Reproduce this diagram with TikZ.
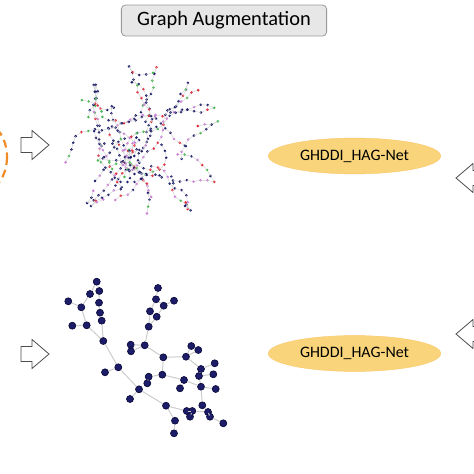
\documentclass[tikz,border=0pt]{standalone}
\usepackage{fontspec}
\setmainfont{Carlito}
\usetikzlibrary{shapes.geometric}

\definecolor{gnavy}{RGB}{28,28,105}
\definecolor{gnavyd}{RGB}{12,12,60}
\definecolor{gred}{RGB}{225,40,55}
\definecolor{ggreen}{RGB}{70,185,80}
\definecolor{gpink}{RGB}{205,125,215}
\definecolor{netfill}{RGB}{250,212,122}
\definecolor{dashorange}{RGB}{238,140,40}
\definecolor{boxgray}{RGB}{231,231,231}

\tikzset{
  titlebox/.style={draw=gray!80, fill=boxgray, rounded corners=4, line width=0.8,
    minimum width=206, minimum height=31, inner sep=0,
    font=\fontsize{20.5}{24}\selectfont},
  netbox/.style={ellipse, fill=netfill, draw=netfill!85!orange, line width=0.4,
    minimum width=173, minimum height=36, inner sep=0,
    font=\fontsize{16}{19}\selectfont},
  blockarrow/.style={draw=black!70, fill=white, line width=0.8, line join=miter},
  atom/.style={circle, fill=gnavy, draw=gnavyd, line width=0.7, inner sep=0, minimum size=7},
  bond/.style={draw=gray!40, line width=1},
  link/.style={draw=gray!40, line width=0.4},
}

\begin{document}
\begin{tikzpicture}[x=1bp,y=-1bp]
  \useasboundingbox (0,0) rectangle (474,474);

  \node[titlebox] (title) at (224,20.5) {Graph Augmentation};

  % orange dashed group at the left edge
  \draw[dashorange, dashed, dash pattern=on 8 off 5, line width=2.2] (-20,157) ellipse (27 and 36);

  % block arrows
  \draw[blockarrow, shift={(21,145)}] (0,-7.5) -- (11,-7.5) -- (11,-14.5) -- (28,0) -- (11,14.5) -- (11,7.5) -- (0,7.5) -- cycle;
  \draw[blockarrow, shift={(21,354)}] (0,-7.5) -- (11,-7.5) -- (11,-14.5) -- (28,0) -- (11,14.5) -- (11,7.5) -- (0,7.5) -- cycle;
  \draw[blockarrow, shift={(456,178)}] (0,0) -- (17,-14.5) -- (17,-7.5) -- (40,-7.5) -- (40,7.5) -- (17,7.5) -- (17,14.5) -- cycle;
  \draw[blockarrow, shift={(456,334)}] (0,0) -- (17,-14.5) -- (17,-7.5) -- (40,-7.5) -- (40,7.5) -- (17,7.5) -- (17,14.5) -- cycle;

  \node[netbox] (net1) at (354.5,156) {GHDDI\_HAG-Net};
  \node[netbox] (net2) at (354.5,353.5) {GHDDI\_HAG-Net};

  % augmented graph (dense, random chains)
  \pgfmathsetseed{1207}
  \foreach \c in {1,...,34}{
    \pgfmathsetmacro\sx{143+rand*45}
    \pgfmathsetmacro\sy{145+rand*45}
    \pgfmathsetmacro\sa{rnd*360}
    \pgfmathtruncatemacro\len{5+rnd*9}
    \xdef\px{\sx}\xdef\py{\sy}\xdef\pa{\sa}
    \fill[gnavy] (\sx,\sy) circle (1.4);
    \foreach \k in {1,...,\len}{
      \pgfmathsetmacro\dd{veclen(\px-143,\py-145)}
      \pgfmathsetmacro\na{\dd>76 ? atan2(145-\py,143-\px)+rand*30 : \pa+rand*35}
      \pgfmathsetmacro\nx{\px+7*cos(\na)}
      \pgfmathsetmacro\ny{\py+7*sin(\na)}
      \draw[link] (\px,\py) -- (\nx,\ny);
      \pgfmathtruncatemacro\ci{rnd<0.5 ? 0 : (rnd<0.34 ? 1 : (rnd<0.5 ? 2 : 3))}
      \edef\col{\ifcase\ci gnavy\or gred\or ggreen\or gpink\fi}
      \fill[\col] (\nx,\ny) circle (1.4);
      \xdef\px{\nx}\xdef\py{\ny}\xdef\pa{\na}
    }
  }

  % original molecular graph
  \foreach \n/\x/\y in {a1/96.7/281.7, a2/99.3/291, a3/90/294, a4/99/302.7, a5/68.3/301.3,
      a6/81.3/307.3, a7/100/312.7, a8/101.7/320.7, a9/72.3/325.7, a10/86.7/325.3,
      a11/103.3/341, a12/118.3/367.3, a13/105/372.3, a14/139/389.3, a15/130/399,
      a16/166/405.7, a17/175/420.7, a18/174/433.3, a19/186.7/411, a20/192.3/411,
      a21/190/416.7, a22/202.3/405.3, a23/208/412, a24/210/416.7, a25/223.3/423.3,
      a26/201/386.7, a27/215.7/389, a28/199/376, a29/213.3/374.3, a30/201/369,
      a31/214.7/363.3, a32/184/380, a33/180/388.3, a34/162.3/374.7, a35/148.7/376.7,
      a36/147.3/383.3, a37/163.3/357.3, a38/186/356.7, a39/191.3/346, a40/198.3/350,
      a41/144.7/345.3, a42/130.7/344.7, a43/131/351.3, a44/148.7/326.7, a45/156.7/316.7,
      a46/150/311.3, a47/163.7/305.7, a48/174/300.7, a49/156/299.3, a50/158/288}
    \node[atom] (\n) at (\x,\y) {};

  \foreach \a/\b in {a1/a2, a1/a3, a2/a4, a3/a6, a6/a5, a6/a10, a10/a9, a10/a11,
      a4/a7, a7/a8, a8/a11, a11/a12, a12/a13, a12/a14, a14/a15, a14/a16,
      a16/a17, a17/a18, a16/a19, a19/a20, a20/a21, a20/a23, a22/a23, a23/a24,
      a24/a25, a22/a26, a26/a27, a26/a32, a32/a33, a32/a34, a30/a28, a28/a29,
      a30/a31, a30/a38, a28/a26, a34/a35, a35/a36, a34/a37, a37/a38, a38/a39,
      a38/a40, a37/a41, a41/a42, a41/a43, a41/a44, a44/a45, a44/a46, a46/a49,
      a49/a50, a49/a47, a47/a48, a47/a45}
    \draw[bond] (\a) -- (\b);
\end{tikzpicture}
\end{document}
